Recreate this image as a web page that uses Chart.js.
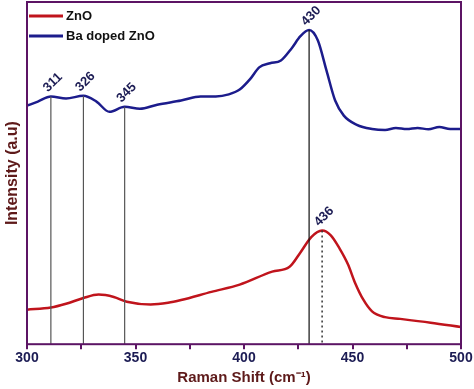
<!DOCTYPE html>
<html>
<head>
<meta charset="utf-8">
<script src="https://cdn.jsdelivr.net/npm/chart.js@4"></script>
<style>
  html, body { margin: 0; padding: 0; background: #fff; }
  #wrap { width: 474px; height: 389px; }
</style>
</head>
<body>
<div id="wrap"><canvas id="ramanChart" width="474" height="389"></canvas></div>
<script>
// Raman shift (cm-1) and intensity (arbitrary units)
const baShift = [300, 305, 311, 318, 326, 332, 338, 345, 352, 360, 371, 380, 387, 393, 398, 403, 407, 412, 417, 422, 426, 430, 434, 438, 442, 446, 452, 459, 465, 470, 475, 480, 485, 490, 495, 500];
const baIntensity = [69.7, 70.9, 72.4, 71.8, 72.6, 70.9, 67.9, 69.4, 68.8, 70.0, 71.2, 72.4, 72.4, 73.0, 74.4, 77.6, 80.9, 82.1, 82.9, 86.5, 90.0, 91.8, 88.8, 80.0, 71.2, 66.8, 64.1, 62.9, 62.6, 63.2, 62.9, 63.2, 62.8, 63.5, 62.9, 62.9];

const znoShift = [300, 311, 318, 326, 333, 340, 346, 357, 365, 371, 385, 398, 413, 421, 426, 431, 436, 440, 444, 448, 451, 455, 459, 465, 472, 486, 500];
const znoIntensity = [10.1, 10.7, 11.8, 13.5, 14.5, 13.8, 12.4, 11.6, 12.1, 12.9, 15.3, 17.4, 21.2, 22.6, 26.8, 31.3, 33.2, 31.8, 28.0, 23.2, 18.2, 13.0, 9.6, 7.9, 7.4, 6.3, 5.0];

// marked peaks: which curve each line rises to
const peakLabels = ["311", "326", "345", "430", "436"];
const peakShift = [311, 326, 345, 430, 436];
const peakSeries = [1, 1, 1, 1, 0];
const peakDotted = [false, false, false, false, true];

const xTicks = [300, 350, 400, 450, 500];

const purple = "#5c1464";
const maroon = "#5e1a1a";
const navy = "#1c1c54";
const font = "'Liberation Sans', Arial, sans-serif";

function valueAt(xs, ys, x) {
    for (let i = 0; i < xs.length - 1; i++) {
        if (x >= xs[i] && x <= xs[i + 1]) {
            const t = (x - xs[i]) / (xs[i + 1] - xs[i]);
            return ys[i] + t * (ys[i + 1] - ys[i]);
        }
    }
    return ys[ys.length - 1];
}

const seriesX = [znoShift, baShift];
const seriesY = [znoIntensity, baIntensity];

const decorPlugin = {
    id: "decor",
    afterDatasetsDraw(chart) {
        const { ctx, chartArea, scales } = chart;
        const xs = scales.x, ys = scales.y;

        // peak marker lines + rotated labels
        peakShift.forEach((p, i) => {
            const s = peakSeries[i];
            const v = valueAt(seriesX[s], seriesY[s], p);
            const px = xs.getPixelForValue(p);
            const top = ys.getPixelForValue(v);
            ctx.save();
            ctx.strokeStyle = peakDotted[i] ? "#333" : (i < 3 ? "#555" : "#111");
            ctx.lineWidth = peakDotted[i] ? 1.5 : 1.2;
            if (peakDotted[i]) ctx.setLineDash([2, 3]);
            ctx.beginPath();
            ctx.moveTo(px, top);
            ctx.lineTo(px, chartArea.bottom);
            ctx.stroke();
            ctx.restore();

            ctx.save();
            ctx.translate(px + 2, top - 14);
            ctx.rotate(-Math.PI / 4);
            ctx.fillStyle = navy;
            ctx.font = "bold 13px " + font;
            ctx.textAlign = "center";
            ctx.textBaseline = "middle";
            ctx.fillText(peakLabels[i], 0, 0);
            ctx.restore();
        });

        // frame
        ctx.save();
        ctx.strokeStyle = purple;
        ctx.lineWidth = 2;
        ctx.strokeRect(chartArea.left, chartArea.top, chartArea.right - chartArea.left, chartArea.bottom - chartArea.top);
        ctx.restore();

        // legend inside the plot
        chart.data.datasets.forEach((ds, i) => {
            const y = chartArea.top + 14 + i * 20;
            ctx.save();
            ctx.strokeStyle = ds.borderColor;
            ctx.lineWidth = 3;
            ctx.beginPath();
            ctx.moveTo(chartArea.left + 2, y);
            ctx.lineTo(chartArea.left + 36, y);
            ctx.stroke();
            ctx.fillStyle = "#111";
            ctx.font = "bold 13px " + font;
            ctx.textBaseline = "middle";
            ctx.fillText(ds.label, chartArea.left + 39, y);
            ctx.restore();
        });

        // y title
        ctx.save();
        ctx.translate(13, (chartArea.top + chartArea.bottom) / 2);
        ctx.rotate(-Math.PI / 2);
        ctx.fillStyle = maroon;
        ctx.font = "bold 16px " + font;
        ctx.textAlign = "center";
        ctx.textBaseline = "middle";
        ctx.fillText("Intensity (a.u)", 0, 0);
        ctx.restore();
    }
};

const ctx = document.getElementById("ramanChart").getContext("2d");
new Chart(ctx, {
    type: "line",
    data: {
        datasets: [
            {
                label: "ZnO",
                data: znoShift.map((x, i) => ({ x: x, y: znoIntensity[i] })),
                borderColor: "#c0141c",
                borderWidth: 2.5,
                pointRadius: 0,
                tension: 0.4,
                cubicInterpolationMode: "monotone"
            },
            {
                label: "Ba doped ZnO",
                data: baShift.map((x, i) => ({ x: x, y: baIntensity[i] })),
                borderColor: "#1c1c8c",
                borderWidth: 2.5,
                pointRadius: 0,
                tension: 0.4,
                cubicInterpolationMode: "monotone"
            }
        ]
    },
    options: {
        responsive: false,
        animation: false,
        layout: { padding: { left: 27, right: 13, top: 2, bottom: 0 } },
        plugins: {
            legend: { display: false },
            tooltip: { enabled: false }
        },
        scales: {
            x: {
                type: "linear",
                min: 300,
                max: 500,
                border: { display: false },
                grid: { drawOnChartArea: false, drawTicks: true, tickLength: 5, tickColor: purple, lineWidth: 2 },
                ticks: {
                    stepSize: 25,
                    autoSkip: false,
                    maxRotation: 0,
                    color: navy,
                    font: { family: font, size: 14, weight: "bold" },
                    padding: 1,
                    callback: v => xTicks.includes(v) ? String(v) : ""
                },
                title: {
                    display: true,
                    text: "Raman Shift (cm\u207B\u00B9)",
                    color: maroon,
                    font: { family: font, size: 15, weight: "bold" },
                    padding: { top: 1, bottom: 2 }
                }
            },
            y: {
                display: false,
                min: 0,
                max: 100
            }
        }
    },
    plugins: [decorPlugin]
});
</script>
</body>
</html>
